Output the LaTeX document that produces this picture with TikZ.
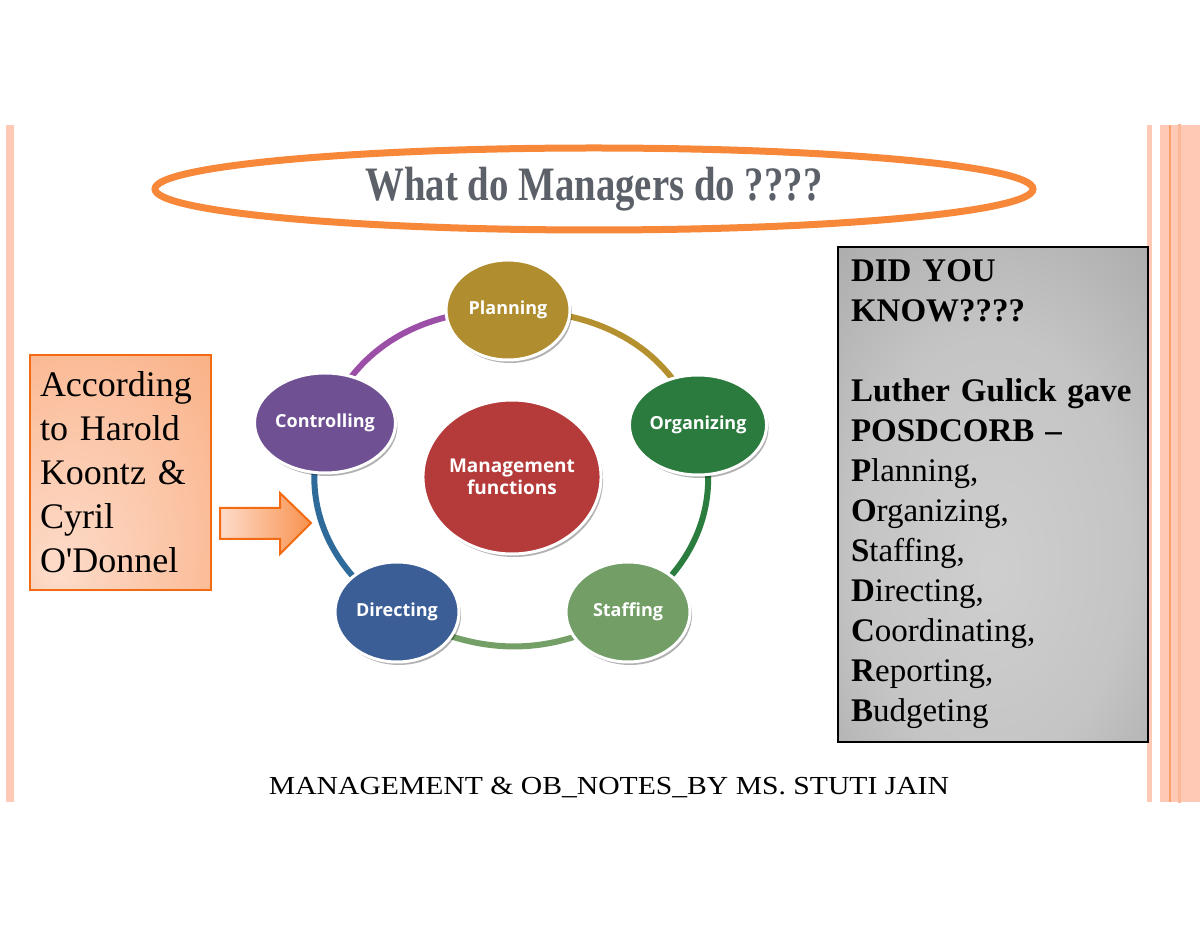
\documentclass[tikz,border=0pt]{standalone}
\usepackage{fontspec}
\setmainfont{Liberation Serif}
\newfontfamily\fnfont{Open Sans}
\usetikzlibrary{shapes.geometric,shadows,backgrounds}
\definecolor{barpeach}{HTML}{FFC9B5}
\definecolor{barline}{HTML}{FBA06A}
\definecolor{barline2}{HTML}{F9B898}
\definecolor{titleorange}{HTML}{F7883A}
\definecolor{titlegray}{HTML}{5C6169}
\definecolor{boxorange}{HTML}{F26B12}
\definecolor{cplan}{HTML}{B08D2E}
\definecolor{corg}{HTML}{2C7B3E}
\definecolor{cstaff}{HTML}{739F67}
\definecolor{cdir}{HTML}{3C5E96}
\definecolor{cctrl}{HTML}{6F5193}
\definecolor{cmgmt}{HTML}{B53B3B}
\definecolor{rplan}{HTML}{B5902F}
\definecolor{rorg}{HTML}{2A7D3E}
\definecolor{rstaff}{HTML}{74A068}
\definecolor{rdir}{HTML}{2E6B9A}
\definecolor{rctrl}{HTML}{9B4FA6}
\definecolor{orA}{HTML}{FDDCCA}
\definecolor{orB}{HTML}{FBC2A2}
\definecolor{orC}{HTML}{F9A775}
\definecolor{orD}{HTML}{F8924F}
\pgfdeclareradialshading{grayboxshade}{\pgfpoint{0bp}{-8bp}}{color(0bp)=(white!81!black); color(22bp)=(white!77!black); color(45bp)=(white!64!black); color(72bp)=(white!52!black)}
\pgfdeclareradialshading{orangeboxshade}{\pgfpoint{-18bp}{-22bp}}{color(0bp)=(orA); color(30bp)=(orB); color(58bp)=(orC); color(85bp)=(orD)}
\tikzset{
  fn/.style={ellipse, draw=white, line width=3pt, minimum width=124pt, minimum height=100pt,
    inner sep=0pt, text=white, font=\fnfont\bfseries\fontsize{18}{21}\selectfont,
    drop shadow={shadow xshift=2pt, shadow yshift=-3pt, opacity=0.3, fill=black}},
  ring/.style={line width=6pt},
  bar/.style={fill=barpeach, draw=none},
}
\begin{document}
\begin{tikzpicture}[x=1pt,y=1pt]
\useasboundingbox (0,0) rectangle (1200,927);
\begin{scope}[on background layer]
\fill[white] (0,0) rectangle (1200,927);
\end{scope}
% side bars
\fill[bar] (6,125) rectangle (14,802);
\fill[bar] (1147,125) rectangle (1152,802);
\fill[bar] (1160,125) rectangle (1200,802);
\fill[barline] (1169,125) rectangle (1171,802);
\fill[barline2] (1178,124) rectangle (1181,803);
% title
\node[ellipse, draw=titleorange, line width=7pt, minimum width=878pt, minimum height=82pt, inner sep=0pt] (title) at (594,738)
  {\textcolor{titlegray}{\scalebox{0.97}[1.2]{\fontsize{40}{44}\selectfont\bfseries What do Managers do ????}}};
% cycle nodes
\node[fn, fill=cmgmt, minimum width=178pt, minimum height=154pt, font=\fnfont\bfseries\fontsize{19}{22}\selectfont, align=center] (mgmt) at (512,450) {Management\\functions};
\node[fn, fill=cplan] (planning) at (508,617) {Planning};
\node[fn, fill=corg] (organizing) at (698,502) {Organizing};
\node[fn, fill=cstaff] (staffing) at (628,315) {Staffing};
\node[fn, fill=cdir] (directing) at (397,315) {Directing};
\node[fn, fill=cctrl] (controlling) at (325,504) {Controlling};
\begin{scope}[on background layer]
\draw[ring, draw=rplan] (planning.center) to[out=0, in=110.8] (organizing.center);
\draw[ring, draw=rorg] (organizing.center) to[out=-69.2, in=31.3] (staffing.center);
\draw[ring, draw=rstaff] (staffing.center) to[out=211.3, in=-30] (directing.center);
\draw[ring, draw=rdir] (directing.center) to[out=150, in=-111.7] (controlling.center);
\draw[ring, draw=rctrl] (controlling.center) to[out=68.3, in=180] (planning.center);
\end{scope}
% left box
\node[rectangle, draw=boxorange, line width=2.5pt, shading=orangeboxshade, minimum width=181pt, minimum height=235pt,
  inner xsep=10pt, text width=161pt, align=left, font=\fontsize{36}{44}\selectfont] (koontz) at (120.5,454.5)
  {According\\to Harold\\Koontz \&\\Cyril\\O\textquotesingle Donnel};
% block arrow
\shadedraw[left color=orA, right color=orD, draw=boxorange, line width=2pt, line join=miter]
  (220,419) -- (280,419) -- (280,434) -- (311,404) -- (280,373) -- (280,388) -- (220,388) -- cycle;
% right box
\node[rectangle, draw=black, line width=2.5pt, shading=grayboxshade, minimum width=310pt, minimum height=495pt,
  inner xsep=13pt, text width=284pt, align=left, font=\fontsize{33}{40}\selectfont] (didyouknow) at (993,432.5)
  {\textbf{DID YOU}\\\textbf{KNOW????}\\~\\\textbf{Luther Gulick gave}\\\textbf{POSDCORB --}\\\textbf{P}lanning,\\\textbf{O}rganizing,\\\textbf{S}taffing,\\\textbf{D}irecting,\\\textbf{C}oordinating,\\\textbf{R}eporting,\\\textbf{B}udgeting};
% footer
\node[anchor=base, inner sep=0pt, font=\fontsize{26}{30}\selectfont] (footer) at (609,132) {\scalebox{1.14}[1]{MANAGEMENT \& OB\_NOTES\_BY MS. STUTI JAIN}};
\end{tikzpicture}
\end{document}
